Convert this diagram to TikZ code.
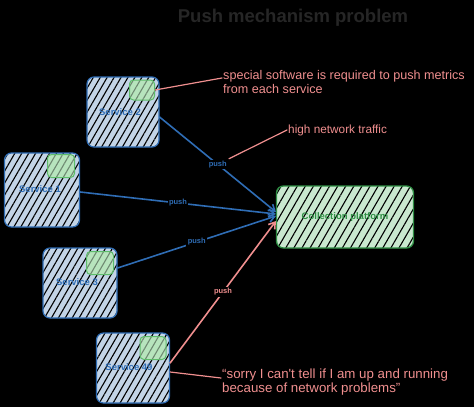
\documentclass[tikz,border=0pt]{standalone}
\usepackage{fontspec}
\setmainfont{Liberation Sans}
\newfontfamily\handfont{Liberation Sans}
\usetikzlibrary{arrows.meta,patterns.meta}

\definecolor{svcline}{HTML}{2F6DB5}
\definecolor{svcfill}{HTML}{C3D4E6}
\definecolor{badgeline}{HTML}{5DBB6A}
\definecolor{badgefill}{HTML}{B7E4BD}
\definecolor{collline}{HTML}{2F8F44}
\definecolor{collfill}{HTML}{C9E8CF}
\definecolor{notepink}{HTML}{F08F8F}
\definecolor{titlegray}{HTML}{262626}

\tikzset{
  service/.style={draw=svcline, line width=1.2pt, rounded corners=7pt,
    preaction={fill=svcfill}, pattern={Lines[angle=60,distance=6pt,line width=1.1pt]},
    pattern color=black, inner sep=0pt, text=svcline, font=\handfont\fontsize{9.5}{10}\selectfont\bfseries},
  badge/.style={draw=badgeline, line width=1pt, rounded corners=4pt,
    preaction={fill=badgefill}, pattern={Lines[angle=60,distance=6pt,line width=1.1pt]},
    pattern color=badgefill!60!black, inner sep=0pt},
  platform/.style={draw=collline, line width=1.3pt, rounded corners=7pt,
    preaction={fill=collfill}, pattern={Lines[angle=60,distance=7pt,line width=1.1pt]},
    pattern color=black, inner sep=0pt, text=collline, font=\handfont\fontsize{9.5}{10}\selectfont\bfseries},
  pushlbl/.style={fill=black, inner sep=1.5pt, font=\handfont\fontsize{7.5}{8}\selectfont\bfseries},
  note/.style={text=notepink, align=left, anchor=west, inner sep=1pt,
    font=\handfont\fontsize{11.8}{13.5}\selectfont},
  pusharrow/.style={line width=1.6pt, -{Straight Barb[length=6pt,width=8pt]}},
}

\begin{document}
\begin{tikzpicture}[line cap=round,line join=round,x=1pt,y=-1pt]
  \fill[black] (0,0) rectangle (474,407);
  \useasboundingbox (0,0) rectangle (474,407);

  \node[text=titlegray, font=\handfont\fontsize{18.5}{22}\selectfont\bfseries] (title) at (293,18) {Push mechanism problem};

  % services
  \node[service, minimum width=72pt, minimum height=70pt] (svcTwo) at (123,112) {\raisebox{-6pt}{Service 2\hspace{6pt}}};
  \node[service, minimum width=75pt, minimum height=74pt] (svcOne) at (42,190) {\raisebox{2pt}{Service 1\hspace{4pt}}};
  \node[service, minimum width=74pt, minimum height=70pt] (svcThree) at (80,283) {\raisebox{2pt}{Service 3\hspace{6pt}}};
  \node[service, minimum width=73pt, minimum height=70pt] (svcFortyNine) at (133,368) {\raisebox{2pt}{Service 49\hspace{8pt}}};

  \node[badge, minimum width=25pt, minimum height=20pt] (badgeTwo) at (142,90) {};
  \node[badge, minimum width=27pt, minimum height=23pt] (badgeOne) at (61,166) {};
  \node[badge, minimum width=27pt, minimum height=23pt] (badgeThree) at (100,263) {};
  \node[badge, minimum width=26pt, minimum height=23pt] (badgeFortyNine) at (153,348) {};

  \node[platform, minimum width=137pt, minimum height=62pt] (coll) at (345,217) {Collection platform};

  % push arrows
  \draw[pusharrow, svcline] ([yshift=-5pt]svcTwo.east) -- node[pushlbl, text=svcline] (pushTwo) {push} ([yshift=5pt]coll.west);
  \draw[pusharrow, svcline] ([yshift=-2pt]svcOne.east) -- node[pushlbl, text=svcline, pos=0.5] (pushOne) {push} ([yshift=3pt]coll.west);
  \draw[pusharrow, svcline] ([yshift=15pt]svcThree.east) -- node[pushlbl, text=svcline, pos=0.5] (pushThree) {push} ([yshift=1pt]coll.west);
  \draw[pusharrow, notepink] ([yshift=5pt]svcFortyNine.east) -- node[pushlbl, text=notepink, pos=0.5] (pushFortyNine) {push} ([yshift=-4pt]coll.west);

  % notes
  \node[note, font=\handfont\fontsize{12.6}{13.5}\selectfont] (noteSoftware) at (222,82) {special software is required to push metrics\\from each service};
  \node[note] (noteTraffic) at (287,130) {high network traffic};
  \node[note, font=\handfont\fontsize{13.3}{14}\selectfont] (noteSorry) at (221,382) {“sorry I can't tell if I am up and running\\because of network problems”};

  \draw[notepink, line width=1.2pt] (badgeTwo.east) -- ([yshift=4pt]noteSoftware.west);
  \draw[notepink, line width=1.2pt] (pushTwo.north east) -- (noteTraffic.west);
  \draw[notepink, line width=1.2pt] ([yshift=4pt]noteSorry.west) -- ([yshift=-4pt]svcFortyNine.east);
\end{tikzpicture}
\end{document}
